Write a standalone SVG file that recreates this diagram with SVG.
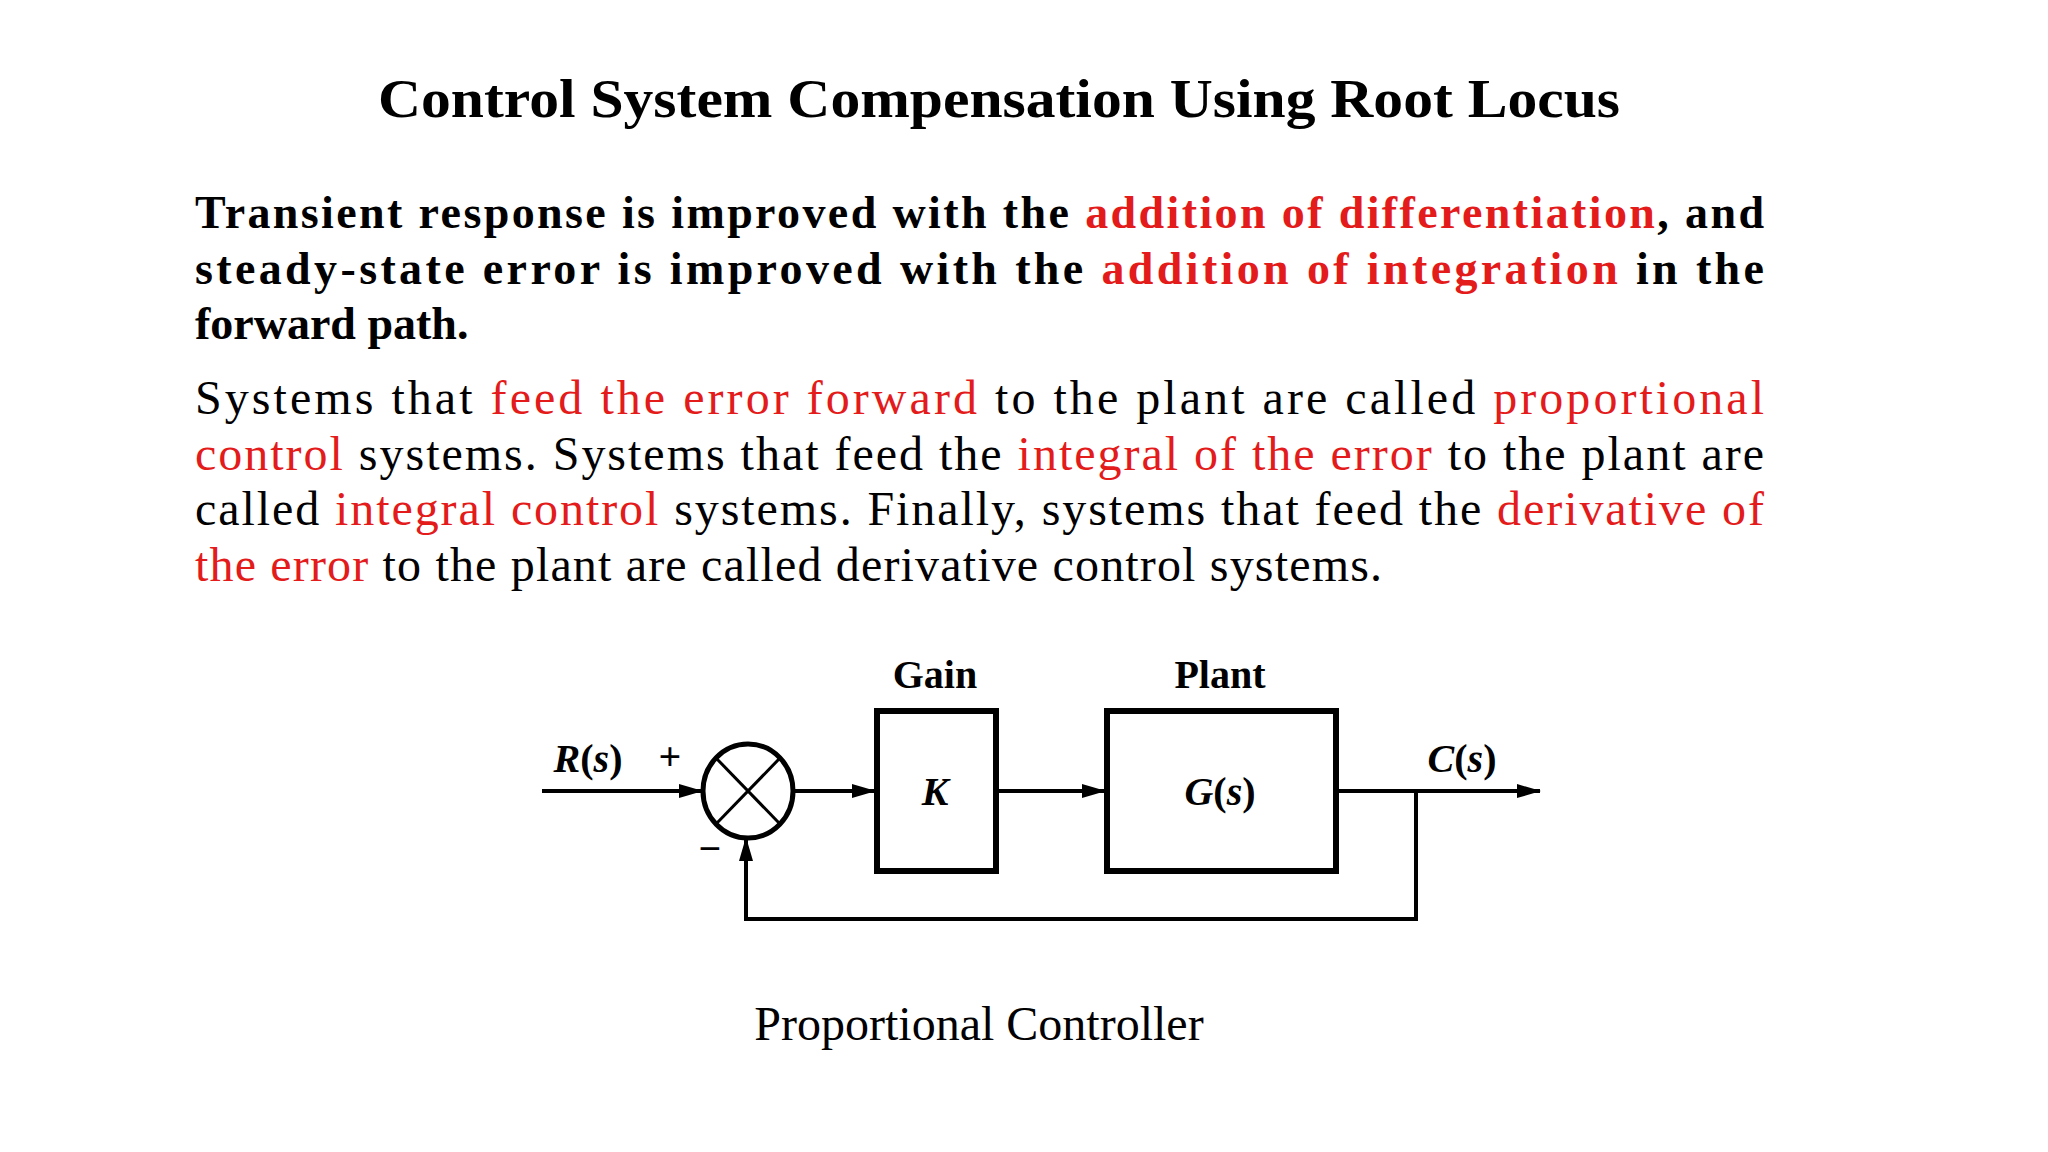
<svg xmlns="http://www.w3.org/2000/svg" width="2048" height="1152" viewBox="0 0 2048 1152">
<style>
.t{font-family:"Liberation Serif","Times New Roman",serif;fill:#000}
.b{font-weight:bold}
.r{fill:#e31b1b}
.ln{stroke:#000;stroke-width:4;fill:none}
.bx{stroke:#000;stroke-width:6;fill:#fff}
.lb{font-family:"Liberation Serif",serif;font-weight:bold;font-size:40px}
</style>
<defs><marker id="a" markerWidth="10" markerHeight="8" refX="9" refY="4" orient="auto" markerUnits="userSpaceOnUse" viewBox="0 0 10 8"><path d="M0,0 L10,4 L0,8 z" fill="#000"/></marker>
<marker id="ah" viewBox="0 0 24 14" refX="23" refY="7" markerWidth="24" markerHeight="14" orient="auto" markerUnits="userSpaceOnUse"><path d="M0,0 L24,7 L0,14 z" fill="#000"/></marker></defs>
<rect width="2048" height="1152" fill="#fff"/>
<text class="t b" x="999" y="117" font-size="54" text-anchor="middle" textLength="1242" lengthAdjust="spacingAndGlyphs">Control System Compensation Using Root Locus</text>
<g class="t b" font-size="46">
<text x="195" y="228" textLength="1569" lengthAdjust="spacing">Transient response is improved with the <tspan class="r">addition of differentiation</tspan>, and</text>
<text x="195" y="284" textLength="1569" lengthAdjust="spacing">steady-state error is improved with the <tspan class="r">addition of integration</tspan> in the</text>
<text x="195" y="339">forward path.</text>
</g>
<g class="t" font-size="48">
<text x="195" y="414" textLength="1569" lengthAdjust="spacing">Systems that <tspan class="r">feed the error forward</tspan> to the plant are called <tspan class="r">proportional</tspan></text>
<text x="195" y="470" textLength="1569" lengthAdjust="spacing"><tspan class="r">control</tspan> systems. Systems that feed the <tspan class="r">integral of the error</tspan> to the plant are</text>
<text x="195" y="525" textLength="1569" lengthAdjust="spacing">called <tspan class="r">integral control</tspan> systems. Finally, systems that feed the <tspan class="r">derivative of</tspan></text>
<text x="195" y="581" textLength="1187" lengthAdjust="spacing"><tspan class="r">the error</tspan> to the plant are called derivative control systems.</text>
</g>
<g id="connectors">
<line class="ln" x1="542" y1="791" x2="702" y2="791" marker-end="url(#ah)"/>
<line class="ln" x1="794" y1="791" x2="875" y2="791" marker-end="url(#ah)"/>
<line class="ln" x1="997" y1="791" x2="1105" y2="791" marker-end="url(#ah)"/>
<line class="ln" x1="1336" y1="791" x2="1540" y2="791" marker-end="url(#ah)"/>
<polyline class="ln" points="1416,791 1416,919 746,919 746,838" marker-end="url(#ah)"/>
</g>
<g id="sum"><ellipse cx="748" cy="791" rx="45" ry="47" fill="#fff" stroke="#000" stroke-width="5"/>
<line x1="716" y1="758" x2="780" y2="824" stroke="#000" stroke-width="3"/><line x1="780" y1="758" x2="716" y2="824" stroke="#000" stroke-width="3"/>
<text class="lb" x="670" y="770" text-anchor="middle">+</text><text class="lb" x="710" y="862" text-anchor="middle">−</text></g>
<g id="gain"><rect class="bx" x="877" y="711" width="119" height="160"/><text class="lb" x="935" y="688" text-anchor="middle">Gain</text><text class="lb" x="935" y="805" font-style="italic" text-anchor="middle">K</text></g>
<g id="plant"><rect class="bx" x="1107" y="711" width="229" height="160"/><text class="lb" x="1220" y="688" text-anchor="middle">Plant</text><text class="lb" x="1220" y="805" text-anchor="middle"><tspan font-style="italic">G</tspan>(<tspan font-style="italic">s</tspan>)</text></g>
<g id="labels">
<text class="lb" x="588" y="772" text-anchor="middle"><tspan font-style="italic">R</tspan>(<tspan font-style="italic">s</tspan>)</text>
<text class="lb" x="1462" y="772" text-anchor="middle"><tspan font-style="italic">C</tspan>(<tspan font-style="italic">s</tspan>)</text>
<text class="t" x="979" y="1040" font-size="48" text-anchor="middle">Proportional Controller</text>
</g>
</svg>
